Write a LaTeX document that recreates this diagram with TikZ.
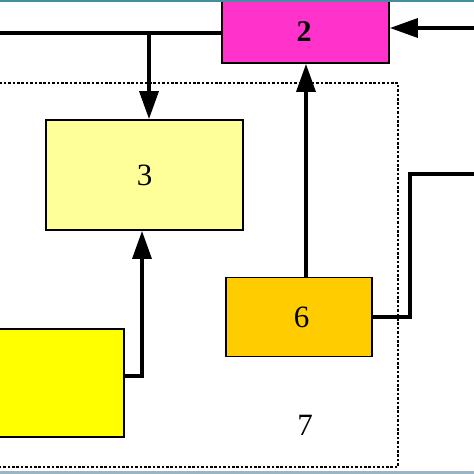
\documentclass[tikz,border=0pt]{standalone}
\usepackage{fontspec}
\setmainfont{Liberation Serif}
\usetikzlibrary{arrows.meta}
\definecolor{magbox}{HTML}{FF33CC}
\definecolor{paleyel}{HTML}{FFFF99}
\definecolor{orangebox}{HTML}{FFCC00}
\definecolor{yelbox}{HTML}{FFFF00}
\definecolor{topline}{HTML}{468C9E}
\definecolor{botline}{HTML}{9AB6C6}
\tikzset{
  blk/.style={draw=black, line width=1.8pt, rectangle, inner sep=0pt, font=\fontsize{31}{36}\selectfont},
  conn/.style={line width=3.4pt},
  arr/.style={conn, -{Triangle[length=28pt,width=19pt]}},
}
\begin{document}
\begin{tikzpicture}[x=1pt,y=-1pt]
\useasboundingbox (0,0) rectangle (474,474);
\fill[white] (0,0) rectangle (474,474);
% dotted frame
\draw[line width=1.7pt, dash pattern=on 2.6pt off 1.8pt] (-5,83) -- (398,83) -- (398,467) -- (-5,467);
% boxes
\node[blk, fill=magbox, minimum width=167pt, minimum height=62pt, font=\fontsize{30}{34}\selectfont\bfseries] (b2) at (305.5,32) {\hspace*{-3pt}2};
\node[blk, fill=paleyel, minimum width=197pt, minimum height=110pt] (b3) at (144.5,175) {3};
\node[blk, fill=orangebox, minimum width=146pt, minimum height=79pt] (b6) at (299,317) {\hspace*{5pt}6};
\node[blk, fill=yelbox, minimum width=129pt, minimum height=108pt] (b1) at (59.5,383) {};
\node[font=\fontsize{31}{36}\selectfont] (l7) at (305,425) {7};
% coordinates
\coordinate (L) at (-3,33);
\coordinate (j1) at (149,33);
\coordinate (R) at (477,28);
\coordinate (u) at (306,0);
\coordinate (k1) at (410,174);
\coordinate (R2) at (477,174);
\coordinate (k2) at (142,376);
% connectors
\draw[conn] (L) -- (L -| b2.west);
\draw[arr] (j1) -- (j1 |- b3.north);
\draw[arr] (R) -- (R -| b2.east);
\draw[arr] (u |- b6.north) -- (u |- b2.south);
\draw[conn] (b6.east) -| (k1) -- (R2);
\draw[arr] (k2 -| b1.east) -- (k2) -- (k2 |- b3.south);
% frame lines
\fill[topline] (0,0) rectangle (474,2);
\fill[botline] (0,471) rectangle (474,474);
\end{tikzpicture}
\end{document}
